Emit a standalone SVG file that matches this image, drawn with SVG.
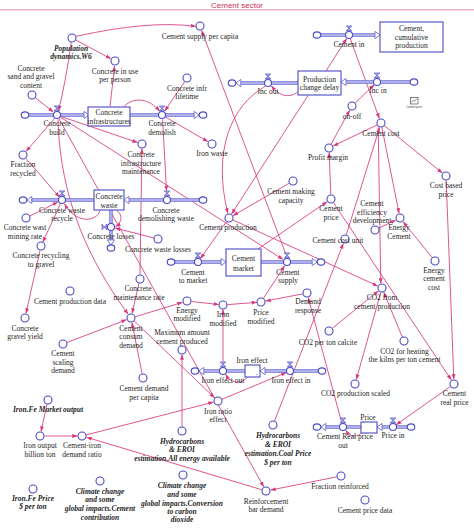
<svg xmlns="http://www.w3.org/2000/svg" width="474" height="528" viewBox="0 0 474 528">
<defs>
<style>
.c{fill:#fff;stroke:#4a4ac4;stroke-width:1.1}
.s{fill:#fff;stroke:#4a4ac4;stroke-width:1.1}
.t{font-family:"Liberation Serif","Times New Roman",serif;font-size:7.5px;fill:#262626;text-anchor:middle}
.b{font-weight:bold;font-style:italic}
.k{fill:none;stroke:#d8387c;stroke-width:0.85;marker-end:url(#ah)}
.p1{fill:none;stroke:#6d6dd0;stroke-width:3.4}
.p2{fill:none;stroke:#c6c6f4;stroke-width:1.4}
.pa{fill:#fff;stroke:#6d6dd0;stroke-width:0.9}
</style>
<marker id="ah" viewBox="0 0 10 10" refX="9" refY="5" markerWidth="5.5" markerHeight="5.5" orient="auto" markerUnits="userSpaceOnUse"><path d="M0,1.5 L10,5 L0,8.5 Z" fill="#d8387c"/></marker>
<g id="vh"><path d="M-2.8,-9 H2.8 L-2.8,-4.2 H2.8 Z" fill="#b4b4ee" stroke="#4a4ac4" stroke-width="0.7"/><circle r="3.5" class="c"/></g>
<g id="vv"><path d="M-9,-2.8 V2.8 L-4.2,-2.8 V2.8 Z" fill="#b4b4ee" stroke="#4a4ac4" stroke-width="0.7"/><circle r="3.5" class="c"/></g>
<g id="cl"><ellipse rx="3.8" ry="3.1" class="c"/></g>
</defs>
<rect width="474" height="528" fill="#fff"/>
<g id="title">
<line x1="0" y1="9.8" x2="474" y2="9.8" stroke="#e07090" stroke-width="0.8"/>
<text x="237" y="8" font-family="Liberation Sans, Arial, sans-serif" font-size="8" fill="#d02f5a" text-anchor="middle">Cement sector</text>
</g>
<g id="connectors">
<path class="k" d="M76.2,36.3 Q150,20 195.6,26.4"/>
<path class="k" d="M76,40.1 L110.6,58.6"/>
<path class="k" d="M71.2,42.5 Q66,80 58.6,110.5"/>
<path class="k" d="M35.5,97.8 L53.1,111.9"/>
<path class="k" d="M110,106.5 L114.6,66.2"/>
<path class="k" d="M124,106.5 C134,96 150,99 159.4,111"/>
<path class="k" d="M184.6,81.7 L164.8,110.9"/>
<path class="k" d="M165.5,117 L207.7,141.5"/>
<path class="k" d="M162.6,119.5 L166.5,190.5"/>
<path class="k" d="M54.5,118.5 L26.2,151.2"/>
<path class="k" d="M26,158.5 L59.4,197"/>
<path class="k" d="M58,119.5 C60,200 90,262 128,314"/>
<path class="k" d="M61,116.5 L137.3,142.4"/>
<path class="k" d="M60.5,117.2 L282.8,259.3"/>
<path class="k" d="M59,118.9 L263.6,486.6"/>
<path class="k" d="M140,274.5 L141.9,148.8"/>
<path class="k" d="M139,283.2 L132.1,313.1"/>
<path class="k" d="M100,210.5 C96,223 75,223 64.6,204"/>
<path class="k" d="M29.8,216 L57.5,202.2"/>
<path class="k" d="M60.5,203.5 L42.9,241.9"/>
<path class="k" d="M40,250.5 L26.1,313.1"/>
<path class="k" d="M116.5,210.5 C123,214 122,223 115.6,226.5"/>
<path class="k" d="M154,238 L115.4,228.1"/>
<path class="k" d="M226.6,221.5 L200.6,258.3"/>
<path class="k" d="M289.2,183.2 L233.3,215.5"/>
<path class="k" d="M308,95.5 L231.7,213.8"/>
<path class="k" d="M265,86.5 C232,105 212,150 227.8,213.1"/>
<path class="k" d="M298,92 C290,98 280,97 271.5,86"/>
<path class="k" d="M326,71 L346.6,38.6"/>
<path class="k" d="M350.4,39 L379.3,118.3"/>
<path class="k" d="M331.2,144 L349.6,110.4"/>
<path class="k" d="M355.2,103 L374.1,84.8"/>
<path class="k" d="M377,125 L333.5,145.8"/>
<path class="k" d="M384.5,125.8 L442.1,172.8"/>
<path class="k" d="M381.9,127.4 L399,213.1"/>
<path class="k" d="M346.3,234.8 L379.5,127.8"/>
<path class="k" d="M378.2,127.5 L380.8,283.2"/>
<path class="k" d="M330.8,194.5 L329.2,152.8"/>
<path class="k" d="M258,249 L326.9,201.8"/>
<path class="k" d="M333.5,202.7 L451.2,379.8"/>
<path class="k" d="M446.2,180.5 L453.8,379"/>
<path class="k" d="M379,228 L395.5,220.2"/>
<path class="k" d="M432.2,257.5 L403.2,221.9"/>
<path class="k" d="M274.6,420.8 L343.2,243.7"/>
<path class="k" d="M233,220 L377.5,285.9"/>
<path class="k" d="M332.5,328.2 L378.1,291.1"/>
<path class="k" d="M402.3,337 L383.9,292.6"/>
<path class="k" d="M380.8,292.3 L356.4,379.2"/>
<path class="k" d="M450.3,386.6 L396.3,424.7"/>
<path class="k" d="M362,432 C358,438 350,437 346,430.5"/>
<path class="k" d="M341.5,422 L308.3,297.8"/>
<path class="k" d="M302.6,293.9 L265.9,301"/>
<path class="k" d="M263.4,298.3 L284.5,266"/>
<path class="k" d="M227.5,304.6 L256.5,302.4"/>
<path class="k" d="M191.5,301.5 L218.5,304.5"/>
<path class="k" d="M135.3,316.7 L182.2,302.5"/>
<path class="k" d="M223,361.5 L223,309.7"/>
<path class="k" d="M247,377.5 C241,385 230,383 225.8,374.5"/>
<path class="k" d="M182,426.8 L182,354.8"/>
<path class="k" d="M134.3,321.1 L214.4,397.5"/>
<path class="k" d="M86.2,434.9 L213.2,402.2"/>
<path class="k" d="M222,399.3 L286.3,372.5"/>
<path class="k" d="M261.7,489.7 L86.8,437.4"/>
<path class="k" d="M336.6,476.9 L270.9,490"/>
<path class="k" d="M47,404.4 L41.1,431.1"/>
<path class="k" d="M44.5,436 L77.2,436"/>
<path class="k" d="M285.8,254 L201.7,30.7"/>
<path class="k" d="M142.1,373.6 L132,322.9"/>
<path class="k" d="M67.2,342.4 L126.3,319.8"/>
</g>
<g id="f-concrete-build">
<path class="p1" d="M29,115 H84"/><path class="p2" d="M29,115 H84"/><polygon class="pa" points="89,115 84,111.4 84,118.6"/>
<use href="#cl" x="25" y="115"/><use href="#vh" x="57" y="115"/>
<text class="t"><tspan x="57" y="126">Concrete</tspan><tspan x="57" y="135.2">build</tspan></text>
</g>
<g id="f-concrete-demolish">
<path class="p1" d="M130,115 H194.2"/><path class="p2" d="M130,115 H194.2"/><polygon class="pa" points="199.2,115 194.2,111.4 194.2,118.6"/>
<use href="#cl" x="203" y="115"/><use href="#vh" x="162" y="115"/>
<text class="t"><tspan x="162" y="126">Concrete</tspan><tspan x="162" y="135.2">demolish</tspan></text>
</g>
<g id="f-inc-out">
<path class="p1" d="M298,83 H240.8"/><path class="p2" d="M298,83 H240.8"/><polygon class="pa" points="235.8,83 240.8,79.4 240.8,86.6"/>
<use href="#cl" x="232" y="83"/><use href="#vh" x="268" y="83"/>
<text class="t" x="268" y="94.4">Inc out</text>
</g>
<g id="f-cement-in">
<path class="p1" d="M320.8,35 H375"/><path class="p2" d="M320.8,35 H375"/><polygon class="pa" points="380,35 375,31.4 375,38.6"/>
<use href="#cl" x="317" y="35"/><use href="#vh" x="349" y="35"/>
<text class="t" x="349" y="46.7">Cement in</text>
</g>
<g id="f-inc-in">
<path class="p1" d="M410.2,82 H346"/><path class="p2" d="M410.2,82 H346"/><polygon class="pa" points="341,82 346,78.4 346,85.6"/>
<use href="#cl" x="414" y="82"/><use href="#vh" x="377" y="82"/>
<text class="t" x="378" y="93.4">Inc in</text>
</g>
<g id="f-concrete-waste-recycle">
<path class="p1" d="M94,200 H31.6"/><path class="p2" d="M94,200 H31.6"/><polygon class="pa" points="26.8,200 31.8,196.4 31.8,203.6"/>
<use href="#cl" x="23" y="200"/><use href="#vh" x="62" y="200"/>
<text class="t"><tspan x="62" y="212.7">Concrete waste</tspan><tspan x="62" y="221">recycle</tspan></text>
</g>
<g id="f-concrete-demolishing-waste">
<path class="p1" d="M199.2,200 H129"/><path class="p2" d="M199.2,200 H129"/><polygon class="pa" points="124,200 129,196.4 129,203.6"/>
<use href="#cl" x="203" y="200"/><use href="#vh" x="167" y="200"/>
<text class="t"><tspan x="166" y="212.7">Concrete</tspan><tspan x="166" y="221">demolishing waste</tspan></text>
</g>
<g id="f-concrete-losses">
<path class="p1" d="M111,210 V240"/><path class="p2" d="M111,210 V240"/><polygon class="pa" points="111,244.9 107.4,239.9 114.6,239.9"/>
<use href="#cl" x="111" y="248"/><use href="#vv" x="111" y="227"/>
<text class="t" x="111" y="238.7">Concrete losses</text>
</g>
<g id="f-cement-to-market">
<path class="p1" d="M174.8,262 H221"/><path class="p2" d="M174.8,262 H221"/><polygon class="pa" points="226,262 221,258.4 221,265.6"/>
<use href="#cl" x="171" y="262"/><use href="#vh" x="198" y="262"/>
<text class="t"><tspan x="193" y="274.7">Cement</tspan><tspan x="193" y="283">to market</tspan></text>
</g>
<g id="f-cement-supply">
<path class="p1" d="M261,262 H312.2"/><path class="p2" d="M261,262 H312.2"/><polygon class="pa" points="317.2,262 312.2,258.4 312.2,265.6"/>
<use href="#cl" x="321" y="262"/><use href="#vh" x="287" y="262"/>
<text class="t"><tspan x="288" y="274.7">Cement</tspan><tspan x="288" y="283">supply</tspan></text>
</g>
<g id="f-iron-effect-out">
<path class="p1" d="M245,371 H203.8"/><path class="p2" d="M245,371 H203.8"/><polygon class="pa" points="198.8,371 203.8,367.4 203.8,374.6"/>
<use href="#cl" x="195" y="371"/><use href="#vh" x="223" y="371"/>
<text class="t" x="223" y="383">Iron effect out</text>
</g>
<g id="f-iron-effect-in">
<path class="p1" d="M318.2,371 H265"/><path class="p2" d="M318.2,371 H265"/><polygon class="pa" points="260,371 265,367.4 265,374.6"/>
<use href="#cl" x="322" y="371"/><use href="#vh" x="290" y="371"/>
<text class="t" x="291" y="383">Iron effect in</text>
</g>
<g id="f-cement-real-price-out">
<path class="p1" d="M361,427 H325.8"/><path class="p2" d="M361,427 H325.8"/><polygon class="pa" points="320.8,427 325.8,423.4 325.8,430.6"/>
<use href="#cl" x="317" y="427"/><use href="#vh" x="343" y="427"/>
<text class="t"><tspan x="345" y="439">Cement Real price</tspan><tspan x="343" y="448">out</tspan></text>
</g>
<g id="f-price-in">
<path class="p1" d="M407.2,427 H382"/><path class="p2" d="M407.2,427 H382"/><polygon class="pa" points="377,427 382,423.4 382,430.6"/>
<use href="#cl" x="411" y="427"/><use href="#vh" x="393" y="427"/>
<text class="t" x="393" y="438.4">Price in</text>
</g>
<g id="s-concrete-infrastructures"><rect class="s" x="88" y="107" width="42" height="19"/><text class="t"><tspan x="109" y="114.7">Concrete</tspan><tspan x="109" y="123.5">infrastructures</tspan></text></g>
<g id="s-production-change-delay"><rect class="s" x="298" y="71" width="43" height="24"/><text class="t"><tspan x="319.5" y="81.7">Production</tspan><tspan x="319.5" y="90">change delay</tspan></text></g>
<g id="s-cement-cumulative"><rect class="s" x="380" y="22" width="63" height="30"/><text class="t"><tspan x="411.5" y="31">Cement,</tspan><tspan x="411.5" y="40">cumulative</tspan><tspan x="411.5" y="48.4">production</tspan></text></g>
<g id="s-concrete-waste"><rect class="s" x="94" y="190" width="30" height="20"/><text class="t"><tspan x="109" y="198.7">Concrete</tspan><tspan x="109" y="207.7">waste</tspan></text></g>
<g id="s-cement-market"><rect class="s" x="226" y="249" width="35" height="27"/><text class="t"><tspan x="243.5" y="261">Cement</tspan><tspan x="243.5" y="270.7">market</tspan></text></g>
<g id="s-iron-effect"><rect class="s" x="245" y="365" width="15" height="12"/><circle cx="257" cy="374.5" r="0.6" fill="#4a4ac4"/><text class="t" x="252" y="363.4">Iron effect</text></g>
<g id="s-price"><rect class="s" x="361" y="422" width="16" height="11"/><text class="t" x="368" y="420">Price</text></g>
<g id="n-cement-price-pad"><rect x="410.5" y="97.5" width="7.5" height="6.5" fill="#fff" stroke="#333" stroke-width="0.6"/><polyline points="411.5,102.5 413,100.3 414.6,101.4 417,98.6" fill="none" stroke="#333" stroke-width="0.5"/><text x="414.2" y="108.3" font-family="Liberation Sans, Arial, sans-serif" font-size="2.6" fill="#333" text-anchor="middle">Cement price</text></g>
<g id="n-population"><circle class="c" cx="72" cy="38" r="4"/><text class="t b"><tspan x="71" y="50.5">Population</tspan><tspan x="71" y="59">dynamics.W6</tspan></text></g>
<g id="n-cement-supply-per-capita"><circle class="c" cx="200" cy="26" r="4"/><text class="t" x="200" y="38.5">Cement supply per capita</text></g>
<g id="n-concrete-in-use"><circle class="c" cx="115" cy="61" r="4"/><text class="t"><tspan x="115" y="73.7">Concrete in use</tspan><tspan x="115" y="82.4">per person</tspan></text></g>
<g id="n-sand-gravel"><circle class="c" cx="32" cy="95" r="4"/><text class="t"><tspan x="31" y="70.7">Concrete</tspan><tspan x="31" y="79.4">sand and gravel</tspan><tspan x="31" y="88">content</tspan></text></g>
<g id="n-infr-lifetime"><circle class="c" cx="187" cy="78" r="4"/><text class="t"><tspan x="187" y="90.7">Concrete infr</tspan><tspan x="187" y="99.4">lifetime</tspan></text></g>
<g id="n-iron-waste"><circle class="c" cx="212" cy="144" r="4"/><text class="t" x="212" y="156">Iron waste</text></g>
<g id="n-infr-maintenance"><circle class="c" cx="142" cy="144" r="4"/><text class="t"><tspan x="141" y="156.7">Concrete</tspan><tspan x="141" y="165.6">infrastructure</tspan><tspan x="141" y="174.4">maintenance</tspan></text></g>
<g id="n-fraction-recycled"><circle class="c" cx="23" cy="155" r="4"/><text class="t"><tspan x="23" y="167">Fraction</tspan><tspan x="23" y="176">recycled</tspan></text></g>
<g id="n-mining-rate"><circle class="c" cx="26" cy="218" r="4"/><text class="t"><tspan x="25" y="230.4">Concrete wast</tspan><tspan x="25" y="238.7">mining rate</tspan></text></g>
<g id="n-recycling-gravel"><circle class="c" cx="41" cy="246" r="4"/><text class="t"><tspan x="41" y="258.4">Concrete recycling</tspan><tspan x="41" y="267">to gravel</tspan></text></g>
<g id="n-waste-losses"><circle class="c" cx="158" cy="239" r="4"/><text class="t" x="158" y="251.7">Concrete waste losses</text></g>
<g id="n-making-capacity"><circle class="c" cx="293" cy="181" r="4"/><text class="t"><tspan x="291" y="194.4">Cement making</tspan><tspan x="291" y="202.7">capacity</tspan></text></g>
<g id="n-cement-production"><circle class="c" cx="229" cy="218" r="4"/><text class="t" x="228" y="230.4">Cement production</text></g>
<g id="n-on-off"><circle class="c" cx="352" cy="106" r="4"/><text class="t" x="352" y="118.7">on-off</text></g>
<g id="n-cement-cost"><circle class="c" cx="381" cy="123" r="4"/><text class="t" x="381" y="136">Cement cost</text></g>
<g id="n-profit-margin"><circle class="c" cx="329" cy="148" r="4"/><text class="t" x="328" y="160.4">Profit margin</text></g>
<g id="n-cost-based-price"><circle class="c" cx="446" cy="176" r="4"/><text class="t"><tspan x="446" y="187.7">Cost based</tspan><tspan x="446" y="196.7">price</tspan></text></g>
<g id="n-cement-price"><circle class="c" cx="331" cy="199" r="4"/><text class="t"><tspan x="331" y="211.4">Cement</tspan><tspan x="331" y="220">price</tspan></text></g>
<g id="n-efficiency"><circle class="c" cx="375" cy="230" r="4"/><text class="t"><tspan x="372" y="206">Cement</tspan><tspan x="372" y="214.7">efficiency</tspan><tspan x="372" y="223.4">development</tspan></text></g>
<g id="n-energy-cement"><circle class="c" cx="400" cy="218" r="4"/><text class="t"><tspan x="399" y="230.4">Energy</tspan><tspan x="399" y="238.7">Cement</tspan></text></g>
<g id="n-cost-unit"><circle class="c" cx="345" cy="239" r="4"/><text class="t" x="338" y="242.7" text-anchor="end">Cement cost unit</text></g>
<g id="n-energy-cement-cost"><circle class="c" cx="435" cy="261" r="4"/><text class="t"><tspan x="434" y="273">Energy</tspan><tspan x="434" y="281.4">cement</tspan><tspan x="434" y="289.7">cost</tspan></text></g>
<g id="n-production-data"><circle class="c" cx="70" cy="291" r="4"/><text class="t" x="70" y="304">Cement production data</text></g>
<g id="n-maintenance-rate"><circle class="c" cx="140" cy="279" r="4"/><text class="t"><tspan x="138" y="291.4">Concrete</tspan><tspan x="139" y="299.7">maintenance rate</tspan></text></g>
<g id="n-consum-demand"><circle class="c" cx="131" cy="318" r="4"/><text class="t"><tspan x="131" y="330.7">Cement</tspan><tspan x="131" y="339.4">consum</tspan><tspan x="131" y="348">demand</tspan></text></g>
<g id="n-gravel-yield"><circle class="c" cx="25" cy="318" r="4"/><text class="t"><tspan x="25" y="330.7">Concrete</tspan><tspan x="25" y="339.4">gravel yield</tspan></text></g>
<g id="n-scaling-demand"><circle class="c" cx="63" cy="344" r="4"/><text class="t"><tspan x="63" y="356.4">Cement</tspan><tspan x="63" y="364.7">scaling</tspan><tspan x="63" y="373.4">demand</tspan></text></g>
<g id="n-demand-per-capita"><circle class="c" cx="143" cy="378" r="4"/><text class="t"><tspan x="144" y="391.4">Cement demand</tspan><tspan x="144" y="399.7">per capita</tspan></text></g>
<g id="n-energy-modified"><circle class="c" cx="187" cy="301" r="4"/><text class="t"><tspan x="187" y="313">Energy</tspan><tspan x="187" y="321.4">modified</tspan></text></g>
<g id="n-iron-modified"><circle class="c" cx="223" cy="305" r="4"/><text class="t"><tspan x="223" y="317.4">Iron</tspan><tspan x="223" y="326.4">modified</tspan></text></g>
<g id="n-price-modified"><circle class="c" cx="261" cy="302" r="4"/><text class="t"><tspan x="261" y="315.4">Price</tspan><tspan x="261" y="323.7">modified</tspan></text></g>
<g id="n-demand-response"><circle class="c" cx="307" cy="293" r="4"/><text class="t"><tspan x="308" y="304">Demand</tspan><tspan x="308" y="313">response</tspan></text></g>
<g id="n-max-amount"><circle class="c" cx="182" cy="350" r="4"/><text class="t"><tspan x="182" y="334.7">Maximum amount</tspan><tspan x="182" y="343.7">cement produced</tspan></text></g>
<g id="n-co2-from"><circle class="c" cx="382" cy="288" r="4"/><text class="t"><tspan x="382" y="300.4">CO2 from</tspan><tspan x="382" y="309">cement production</tspan></text></g>
<g id="n-co2-calcite"><circle class="c" cx="329" cy="331" r="4"/><text class="t" x="328" y="344.7">CO2 per ton calcite</text></g>
<g id="n-co2-heating"><circle class="c" cx="404" cy="341" r="4"/><text class="t"><tspan x="404.5" y="354">CO2 for heating</tspan><tspan x="404.5" y="362.4">the kilns per ton cement</tspan></text></g>
<g id="n-co2-scaled"><circle class="c" cx="355" cy="384" r="4"/><text class="t" x="355.5" y="395.7">CO2 production scaled</text></g>
<g id="n-cement-real-price"><circle class="c" cx="454" cy="384" r="4"/><text class="t"><tspan x="454.5" y="395.7">Cement</tspan><tspan x="454.5" y="405">real price</tspan></text></g>
<g id="n-fe-market-output"><circle class="c" cx="48" cy="400" r="4"/><text class="t b" x="48" y="412.4">Iron.Fe Market output</text></g>
<g id="n-iron-output"><circle class="c" cx="40" cy="436" r="4"/><text class="t"><tspan x="40" y="448.4">Iron output</tspan><tspan x="40" y="456.7">billion ton</tspan></text></g>
<g id="n-cement-iron-ratio"><circle class="c" cx="82" cy="436" r="4"/><text class="t"><tspan x="82" y="448.4">Cement-iron</tspan><tspan x="82" y="456.7">demand ratio</tspan></text></g>
<g id="n-iron-ratio-effect"><circle class="c" cx="218" cy="401" r="4"/><text class="t"><tspan x="218" y="414">Iron ratio</tspan><tspan x="218" y="422.4">effect</tspan></text></g>
<g id="n-hc-all-energy"><circle class="c" cx="182" cy="431" r="4"/><text class="t b"><tspan x="182" y="444">Hydrocarbons</tspan><tspan x="182" y="452.4">&amp; EROI</tspan><tspan x="182" y="461.4">estimation.All energy available</tspan></text></g>
<g id="n-hc-coal-price"><circle class="c" cx="273" cy="425" r="4"/><text class="t b"><tspan x="278" y="438.4">Hydrocarbons</tspan><tspan x="278" y="447.4">&amp; EROI</tspan><tspan x="278" y="455.7">estimation.Coal Price</tspan><tspan x="278" y="464.7">$ per ton</tspan></text></g>
<g id="n-climate-conversion"><circle class="c" cx="183" cy="475" r="4"/><text class="t b"><tspan x="182" y="488.4">Climate change</tspan><tspan x="182" y="496.7">and some</tspan><tspan x="182" y="505.7">global impacts.Conversion</tspan><tspan x="182" y="514">to carbon</tspan><tspan x="182" y="522.4">dioxide</tspan></text></g>
<g id="n-reinforcement"><circle class="c" cx="266" cy="491" r="4"/><text class="t"><tspan x="266" y="504">Reinforcement</tspan><tspan x="266" y="512.4">bar demand</tspan></text></g>
<g id="n-fe-price"><circle class="c" cx="33" cy="489" r="4"/><text class="t b"><tspan x="33" y="500.7">Iron.Fe Price</tspan><tspan x="33" y="509">$ per ton</tspan></text></g>
<g id="n-climate-cement"><circle class="c" cx="100" cy="481" r="4"/><text class="t b"><tspan x="100" y="494">Climate change</tspan><tspan x="100" y="502.4">and some</tspan><tspan x="100" y="511.4">global impacts.Cement</tspan><tspan x="100" y="519.7">contribution</tspan></text></g>
<g id="n-fraction-reinforced"><circle class="c" cx="341" cy="476" r="4"/><text class="t" x="340" y="489">Fraction reinforced</text></g>
<g id="n-cement-price-data"><circle class="c" cx="365" cy="500" r="4"/><text class="t" x="365" y="513">Cement price data</text></g>
</svg>
